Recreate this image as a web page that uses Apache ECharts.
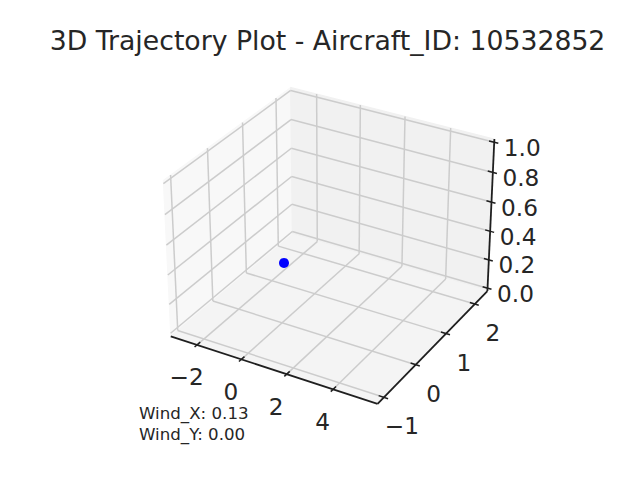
<!DOCTYPE html>
<html>
<head>
<meta charset="utf-8">
<script src="https://cdn.jsdelivr.net/npm/echarts@6/dist/echarts.min.js"></script>
<style>
html,body{margin:0;padding:0;background:#ffffff;}
#chart{width:640px;height:480px;}
</style>
</head>
<body>
<div id="chart"></div>
<script>
// ---------------- data ----------------
const titleText = '3D Trajectory Plot - Aircraft_ID: 10532852';
const trajX = [-2.18];
const trajY = [1.50];
const trajZ = [0.0];
const windX = 0.13;
const windY = 0.00;

const xLim = [-3.03, 5.69];
const yLim = [-1.12, 2.38];
const zLim = [0, 1];

const xTicks = [-2, 0, 2, 4];
const yTicks = [-1, 0, 1, 2];
const zTicks = [0, 0.2, 0.4, 0.6, 0.8, 1.0];
const xTickLabels = ['\u22122', '0', '2', '4'];
const yTickLabels = ['\u22121', '0', '1', '2'];
const zTickLabels = ['0.0', '0.2', '0.4', '0.6', '0.8', '1.0'];

// ---------------- camera (elev 30, azim -60, box aspect 4:4:3, focal length 1) ----------------
const ELEV = 30, AZIM = -60, DIST = 10;
const ASPECT = [4, 4, 3].map(a => a * 1.8294640721620434 / Math.hypot(4, 4, 3));
const el = ELEV * Math.PI / 180, az = AZIM * Math.PI / 180;
const W = [Math.cos(el) * Math.cos(az), Math.cos(el) * Math.sin(az), Math.sin(el)];
let U = [-W[1], W[0], 0];
const nU = Math.hypot(U[0], U[1], U[2]);
U = U.map(c => c / nU);
const V = [W[1] * U[2] - W[2] * U[1], W[2] * U[0] - W[0] * U[2], W[0] * U[1] - W[1] * U[0]];
const dot = (a, b) => a[0] * b[0] + a[1] * b[1] + a[2] * b[2];

function project(x, y, z) {
  const d = [
    ((x - xLim[0]) / (xLim[1] - xLim[0]) - 0.5) * ASPECT[0],
    ((y - yLim[0]) / (yLim[1] - yLim[0]) - 0.5) * ASPECT[1],
    ((z - zLim[0]) / (zLim[1] - zLim[0]) - 0.5) * ASPECT[2]
  ];
  const den = DIST - dot(W, d);
  return [dot(U, d) / den, dot(V, d) / den];
}

// padded pane bounds
const pad = l => (l[1] - l[0]) / 48;
const X0 = xLim[0] - pad(xLim), X1 = xLim[1] + pad(xLim);
const Y0 = yLim[0] - pad(yLim), Y1 = yLim[1] + pad(yLim);
const Z0 = zLim[0] - pad(zLim), Z1 = zLim[1] + pad(zLim);
const xr = xLim[1] - xLim[0], yr = yLim[1] - yLim[0];

// view placement of projected plane in the page
const VIEW_SCALE = 1990, VIEW_CX = 332, VIEW_CY = 238;
const PW = 640, PH = 480;

// ---------------- geometry from data ----------------
const P = (x, y, z) => project(x, y, z);
const panes = [
  { color: '#f8f8f8', pts: [P(X0, Y0, Z0), P(X0, Y1, Z0), P(X0, Y1, Z1), P(X0, Y0, Z1)] },
  { color: '#f1f1f1', pts: [P(X0, Y1, Z0), P(X1, Y1, Z0), P(X1, Y1, Z1), P(X0, Y1, Z1)] },
  { color: '#f4f4f4', pts: [P(X0, Y0, Z0), P(X1, Y0, Z0), P(X1, Y1, Z0), P(X0, Y1, Z0)] }
];

const seg = (a, b) => ({ coords: [P(a[0], a[1], a[2]), P(b[0], b[1], b[2])] });
const gridSegs = [];
xTicks.forEach(x => {
  gridSegs.push(seg([x, Y1, Z0], [x, Y1, Z1]));   // back pane
  gridSegs.push(seg([x, Y0, Z0], [x, Y1, Z0]));   // floor
});
yTicks.forEach(y => {
  gridSegs.push(seg([X0, y, Z0], [X0, y, Z1]));   // left pane
  gridSegs.push(seg([X0, y, Z0], [X1, y, Z0]));   // floor
});
zTicks.forEach(z => {
  gridSegs.push(seg([X0, Y0, z], [X0, Y1, z]));   // left pane
  gridSegs.push(seg([X0, Y1, z], [X1, Y1, z]));   // back pane
});

const axisSegs = [
  seg([X0, Y0, Z0], [X1, Y0, Z0]),
  seg([X1, Y0, Z0], [X1, Y1, Z0]),
  seg([X1, Y1, Z0], [X1, Y1, Z1])
];

const TICK_OUT = 0.02, TICK_IN = 0.025;
const tickSegs = [];
xTicks.forEach(x => tickSegs.push(seg([x, Y0 - TICK_OUT * yr, Z0], [x, Y0 + TICK_IN * yr, Z0])));
yTicks.forEach(y => tickSegs.push(seg([X1 + TICK_OUT * xr, y, Z0], [X1 - TICK_IN * xr, y, Z0])));
zTicks.forEach(z => tickSegs.push(seg([X1 + TICK_OUT * xr, Y1, z], [X1 - TICK_IN * xr, Y1, z])));

const labelItems = [];
xTicks.forEach((x, i) => { const p = P(x, Y0, Z0); labelItems.push({ X: p[0], Y: p[1], text: xTickLabels[i], dx: -10.5, dy: 32 }); });
yTicks.forEach((y, i) => { const p = P(X1, y, Z0); labelItems.push({ X: p[0], Y: p[1], text: yTickLabels[i], dx: 18, dy: 28.5 }); });
zTicks.forEach((z, i) => { const p = P(X1, Y1, z); labelItems.push({ X: p[0], Y: p[1], text: zTickLabels[i], dx: 28, dy: 5 }); });

const pointData = trajX.map((x, i) => P(x, trajY[i], trajZ[i]));

const TEXT = '#262626';
const FONT = 'DejaVu Sans';

const chart = echarts.init(document.getElementById('chart'), null, { renderer: 'svg', width: PW, height: PH });
chart.setOption({
  animation: false,
  backgroundColor: '#ffffff',
  grid: { left: 0, top: 0, width: PW, height: PH, containLabel: false },
  xAxis: { type: 'value', show: false, min: -VIEW_CX / VIEW_SCALE, max: (PW - VIEW_CX) / VIEW_SCALE },
  yAxis: { type: 'value', show: false, min: (VIEW_CY - PH) / VIEW_SCALE, max: VIEW_CY / VIEW_SCALE },
  graphic: [
    { type: 'text', x: 327.5, y: 40, silent: true,
      style: { text: titleText, fill: TEXT, fontSize: 26.7, fontFamily: FONT, align: 'center', verticalAlign: 'middle' } },
    { type: 'text', x: 139, y: 413.5, silent: true,
      style: { text: 'Wind_X: ' + windX.toFixed(2), fill: TEXT, fontSize: 16.67, fontFamily: FONT, align: 'left', verticalAlign: 'middle' } },
    { type: 'text', x: 139, y: 434, silent: true,
      style: { text: 'Wind_Y: ' + windY.toFixed(2), fill: TEXT, fontSize: 16.67, fontFamily: FONT, align: 'left', verticalAlign: 'middle' } }
  ],
  series: [
    {
      type: 'custom', coordinateSystem: 'cartesian2d', silent: true, z: 1,
      data: panes.map(p => p.pts[0]),
      renderItem: (params, api) => {
        const pane = panes[params.dataIndex];
        return { type: 'polygon', shape: { points: pane.pts.map(q => api.coord(q)) },
                 style: { fill: pane.color, stroke: pane.color, lineWidth: 1 } };
      }
    },
    {
      type: 'lines', coordinateSystem: 'cartesian2d', silent: true, z: 2,
      data: gridSegs, lineStyle: { color: '#cccccc', width: 1.5, opacity: 1 }
    },
    {
      type: 'lines', coordinateSystem: 'cartesian2d', silent: true, z: 3,
      data: axisSegs, lineStyle: { color: '#1f1f1f', width: 1.8, opacity: 1 }
    },
    {
      type: 'lines', coordinateSystem: 'cartesian2d', silent: true, z: 3,
      data: tickSegs, lineStyle: { color: '#1f1f1f', width: 1.5, opacity: 1 }
    },
    {
      type: 'scatter', silent: true, z: 4,
      data: pointData, symbol: 'circle', symbolSize: 10,
      itemStyle: { color: '#0000ff', opacity: 1 }
    },
    {
      type: 'custom', coordinateSystem: 'cartesian2d', silent: true, z: 5,
      data: labelItems.map(it => [it.X, it.Y]),
      renderItem: (params, api) => {
        const it = labelItems[params.dataIndex];
        const c = api.coord([it.X, it.Y]);
        return { type: 'text', x: c[0] + it.dx, y: c[1] + it.dy,
                 style: { text: it.text, fill: TEXT, fontSize: 23.2, fontFamily: FONT, align: 'center', verticalAlign: 'middle' } };
      }
    }
  ]
});
</script>
</body>
</html>
